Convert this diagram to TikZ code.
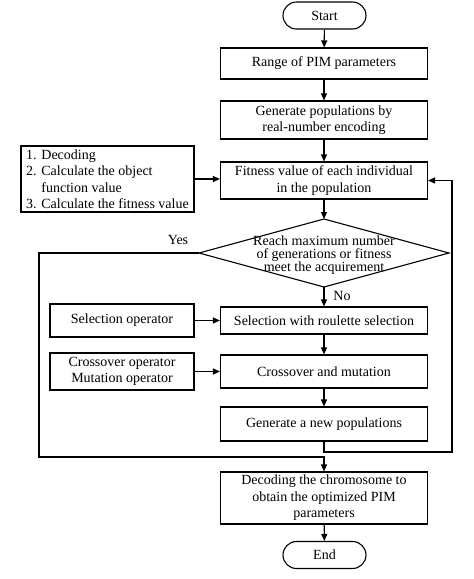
\documentclass[tikz,border=0pt]{standalone}
\usepackage{fontspec}
\setmainfont{Liberation Serif}
\usetikzlibrary{arrows.meta}
\begin{document}
\begin{tikzpicture}[x=1pt,y=-1pt,
  every node/.style={font=\fontsize{14}{16.5}\selectfont},
  box/.style={draw,line width=1.1pt,inner sep=0pt,align=center,minimum width=207pt},
  side/.style={draw,line width=1.1pt,inner sep=0pt,align=center},
  term/.style={draw,line width=1.1pt,inner sep=0pt,rounded corners=13.5pt,minimum width=83pt,minimum height=27pt},
  arr/.style={line width=1.1pt,-{Triangle[length=7pt,width=6pt]}},
  ln/.style={line width=1.1pt}]
\useasboundingbox (0,0) rectangle (474,579);
\node[term] (start) at (324.5,15.5) {Start};
\node[box,minimum height=31pt] (range) at (324,63.5) {Range of PIM parameters};
\node[box,minimum height=38pt] (gen) at (324,120) {Generate populations by\\real-number encoding};
\node[box,minimum height=37pt] (fit) at (324,180.5) {Fitness value of each individual\\in the population};
\node[side,minimum width=173pt,minimum height=66pt,align=left] (list) at (107.5,179)
  {1. Decoding\\2. Calculate the object\\\phantom{2. }function value\\3. Calculate the fitness value};
\coordinate (dL) at (199,253);
\coordinate (dT) at (324,219);
\coordinate (dR) at (449,253);
\coordinate (dB) at (324,287);
\draw[ln] (dL) -- (dT) -- (dR) -- (dB) -- cycle;
\node[align=center,inner sep=0pt,font=\fontsize{14}{13}\selectfont] (cond) at (324,255)
  {Reach maximum number\\of generations or fitness\\meet the acquirement};
\node[box,minimum height=27pt] (sel) at (324,320.5) {Selection with roulette selection};
\node[side,minimum width=144pt,minimum height=33pt] (selop) at (122,320.5) {Selection operator};
\node[box,minimum height=33pt] (cross) at (324,371.5) {Crossover and mutation};
\node[side,minimum width=144pt,minimum height=37pt] (crossop) at (122,371.5) {Crossover operator\\Mutation operator};
\node[box,minimum height=34pt] (newpop) at (324,424) {Generate a new populations};
\node[box,minimum height=52pt] (dec) at (324,498) {Decoding the chromosome to\\obtain the optimized PIM\\parameters};
\node[term] (end) at (324.5,555) {End};
\node[inner sep=0pt] (yes) at (178,240) {Yes};
\node[inner sep=0pt] (no) at (342,296) {No};
\coordinate (yc) at (39,457);
\coordinate (fb) at (452,452);
\draw[arr] (start) -- (range);
\draw[arr] (range) -- (gen);
\draw[arr] (gen) -- (fit);
\draw[arr] (list.east) -- (list.east -| fit.west);
\draw[arr] (fit) -- (dT);
\draw[arr] (dB) -- (sel);
\draw[arr] (selop) -- (sel);
\draw[arr] (sel) -- (cross);
\draw[arr] (crossop) -- (cross);
\draw[arr] (cross) -- (newpop);
\draw[arr] (dL) -| (yc) -- (yc -| dec.north) -- (dec.north);
\draw[arr] (newpop.south) |- (fb) |- (fit.east);
\draw[arr] (dec) -- (end);
\end{tikzpicture}
\end{document}
